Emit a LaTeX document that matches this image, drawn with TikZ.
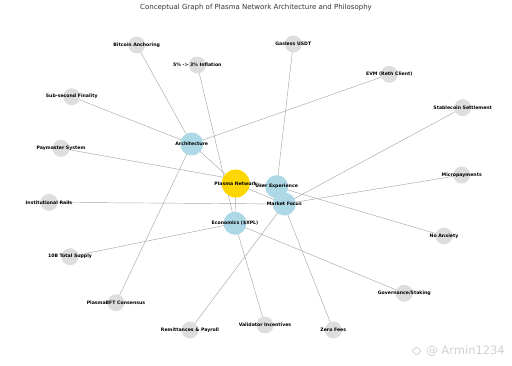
\documentclass[tikz,border=0pt]{standalone}
\usepackage{fontspec}
\setmainfont{DejaVu Sans}
\definecolor{goldc}{HTML}{FFD700}
\definecolor{bluec}{HTML}{ADD8E6}
\definecolor{grayc}{HTML}{DEDEDE}
\definecolor{edgec}{HTML}{A8A8A8}
\definecolor{wmark}{HTML}{D0D0D0}
\begin{document}
\begin{tikzpicture}[x=1pt,y=-1pt,
  hub/.style={circle,fill=goldc,draw=none,minimum size=28pt,inner sep=0pt},
  cat/.style={circle,fill=bluec,draw=none,minimum size=23pt,inner sep=0pt},
  leaf/.style={circle,fill=grayc,draw=none,minimum size=17pt,inner sep=0pt},
  lbl/.style={font=\fontsize{4.65}{5.5}\selectfont\bfseries,text=black,inner sep=0pt},
  edge/.style={draw=edgec,line width=0.45pt}]
\useasboundingbox (0,0) rectangle (512,366);
\fill[white] (0,0) rectangle (512,366);
\node[font=\fontsize{7}{8.5}\selectfont,text=black!80] (title) at (256,8) {Conceptual Graph of Plasma Network Architecture and Philosophy};
% coordinates
\coordinate (pn) at (235.7,183.5);
\coordinate (ar) at (191.7,144);
\coordinate (ux) at (276.7,186.7);
\coordinate (mf) at (284.3,204);
\coordinate (ec) at (235,223.3);
\coordinate (ba) at (136.7,45);
\coordinate (inf) at (197.3,65);
\coordinate (ssf) at (71.7,96.7);
\coordinate (pay) at (61,148.3);
\coordinate (gas) at (293.3,44);
\coordinate (evm) at (389.3,74.3);
\coordinate (sts) at (462.7,107.7);
\coordinate (ir) at (49,202.3);
\coordinate (tb) at (70,256.7);
\coordinate (mp) at (461.7,175);
\coordinate (na) at (444,236);
\coordinate (gov) at (404.3,293.3);
\coordinate (bft) at (116,302.7);
\coordinate (rem) at (190,330);
\coordinate (val) at (265,325);
\coordinate (zf) at (333.3,330);
% edges
\draw[edge] (pn) -- (ar);
\draw[edge] (pn) -- (ux);
\draw[edge] (pn) -- (mf);
\draw[edge] (pn) -- (ec);
\draw[edge] (ar) -- (ba);
\draw[edge] (ar) -- (ssf);
\draw[edge] (ar) -- (evm);
\draw[edge] (ar) -- (bft);
\draw[edge] (ux) -- (pay);
\draw[edge] (ux) -- (gas);
\draw[edge] (ux) -- (na);
\draw[edge] (ux) -- (zf);
\draw[edge] (mf) -- (sts);
\draw[edge] (mf) -- (mp);
\draw[edge] (mf) -- (ir);
\draw[edge] (mf) -- (rem);
\draw[edge] (ec) -- (inf);
\draw[edge] (ec) -- (tb);
\draw[edge] (ec) -- (val);
\draw[edge] (ec) -- (gov);
% nodes
\node[leaf] (nba) at (ba) {};
\node[leaf] (ninf) at (inf) {};
\node[leaf] (nssf) at (ssf) {};
\node[leaf] (npay) at (pay) {};
\node[leaf] (ngas) at (gas) {};
\node[leaf] (nevm) at (evm) {};
\node[leaf] (nsts) at (sts) {};
\node[leaf] (nir) at (ir) {};
\node[leaf] (ntb) at (tb) {};
\node[leaf] (nmp) at (mp) {};
\node[leaf] (nna) at (na) {};
\node[leaf] (ngov) at (gov) {};
\node[leaf] (nbft) at (bft) {};
\node[leaf] (nrem) at (rem) {};
\node[leaf] (nval) at (val) {};
\node[leaf] (nzf) at (zf) {};
\node[hub] (npn) at (pn) {};
\node[cat] (nar) at (ar) {};
\node[cat] (nux) at (ux) {};
\node[cat] (nmf) at (mf) {};
\node[cat] (nec) at (ec) {};
% labels
\node[lbl] (lpn) at (pn) {Plasma Network};
\node[lbl] (lar) at (ar) {Architecture};
\node[lbl] (lux) at (ux) {User Experience};
\node[lbl] (lmf) at (mf) {Market Focus};
\node[lbl] (lec) at (ec) {Economics (\$XPL)};
\node[lbl] (lba) at (ba) {Bitcoin Anchoring};
\node[lbl] (linf) at (inf) {5\% -> 3\% Inflation};
\node[lbl] (lssf) at (ssf) {Sub-second Finality};
\node[lbl] (lpay) at (pay) {Paymaster System};
\node[lbl] (lgas) at (gas) {Gasless USDT};
\node[lbl] (levm) at (evm) {EVM (Reth Client)};
\node[lbl] (lsts) at (sts) {Stablecoin Settlement};
\node[lbl] (lir) at (ir) {Institutional Rails};
\node[lbl] (ltb) at (tb) {10B Total Supply};
\node[lbl] (lmp) at (mp) {Micropayments};
\node[lbl] (lna) at (na) {No Anxiety};
\node[lbl] (lgov) at (gov) {Governance/Staking};
\node[lbl] (lbft) at (bft) {PlasmaBFT Consensus};
\node[lbl] (lrem) at (rem) {Remittances \& Payroll};
\node[lbl] (lval) at (val) {Validator Incentives};
\node[lbl] (lzf) at (zf) {Zero Fees};
% watermark
\node[font=\fontsize{11.5}{14}\selectfont,text=wmark,anchor=east,inner sep=0pt] (wm) at (505,351) {@ Armin1234};
\draw[wmark,line width=0.7pt] (412,351) -- (416.5,347) -- (421,351) -- (416.5,355) -- cycle;
\end{tikzpicture}
\end{document}
